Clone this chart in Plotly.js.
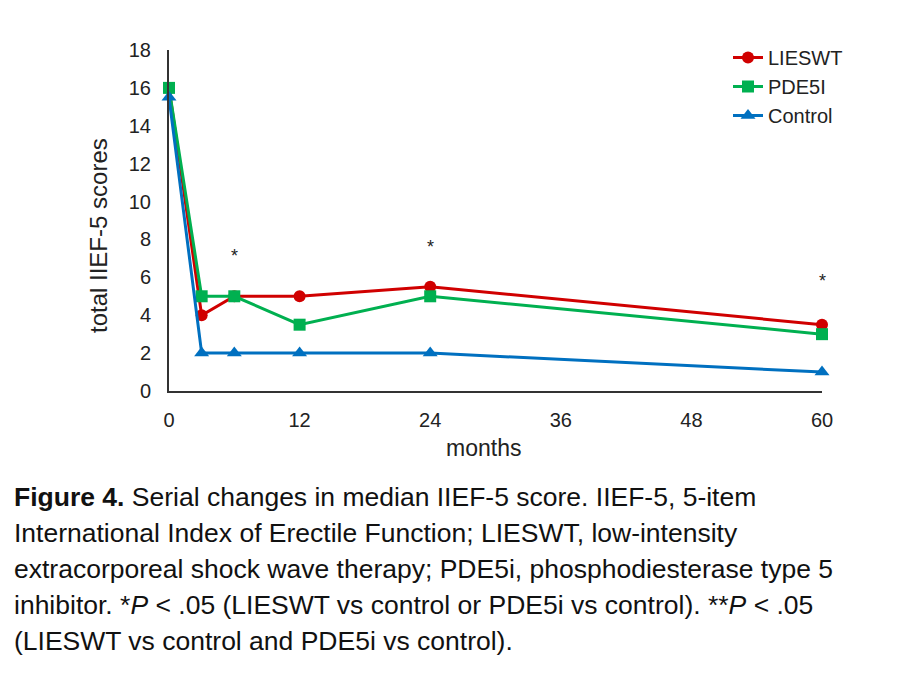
<!DOCTYPE html>
<html><head><meta charset="utf-8">
<script src="https://cdn.plot.ly/plotly-3.0.1.min.js"></script>
<style>body{margin:0;background:#fff}#c{width:907px;height:692px}</style>
</head><body><div id="c"></div>
<script>
const months = [0, 3, 6, 12, 24, 60];
const lieswt = [16, 4, 5, 5, 5.5, 3.5];
const pde5i = [16, 5, 5, 3.5, 5, 3];
const control = [15.5, 2, 2, 2, 2, 1];
const starMonths = [6, 24, 60];
const starY = [7.1, 7.6, 5.8];
const xTicks = [0, 12, 24, 36, 48, 60];
const yTicks = [0, 2, 4, 6, 8, 10, 12, 14, 16, 18];
const xTitle = "months";
const yTitle = "total IIEF-5 scores";
const captionLines = [
  "<b>Figure 4.</b> Serial changes in median IIEF-5 score. IIEF-5, 5-item",
  "International Index of Erectile Function; LIESWT, low-intensity",
  "extracorporeal shock wave therapy; PDE5i, phosphodiesterase type 5",
  "inhibitor. *<i>P</i> &lt; .05 (LIESWT vs control or PDE5i vs control). **<i>P</i> &lt; .05",
  "(LIESWT vs control and PDE5i vs control)."
];

const L = 169, R = 822, T = 50, B = 391;
const pw = R - L, ph = B - T;
const px = v => (v - L) / pw;
const py = v => (B - v) / ph;

const font = "Liberation Sans, Arial, sans-serif";
const txt = '#222';
const mk = (name, y, color, symbol, size) => ({
  x: months, y: y, name: name, type: 'scatter', mode: 'lines+markers',
  line: {color: color, width: 3}, marker: {color: color, symbol: symbol, size: size},
  cliponaxis: false
});
const traces = [
  mk('LIESWT', lieswt, '#d00000', 'circle', 12),
  mk('PDE5I', pde5i, '#00b050', 'square', 12),
  mk('Control', control, '#0070c0', 'triangle-up', 13)
];

const annotations = starMonths.map((m, i) => ({
  x: m, y: starY[i], xref: 'x', yref: 'y', text: '*', showarrow: false,
  font: {family: font, size: 18, color: txt}
}));
annotations.push({
  xref: 'paper', yref: 'paper', x: px(483), y: py(448), xanchor: 'center', yanchor: 'middle',
  showarrow: false, text: xTitle, font: {family: font, size: 23, color: txt}
});
annotations.push({
  xref: 'paper', yref: 'paper', x: px(98), y: py(236), xanchor: 'center', yanchor: 'middle',
  showarrow: false, text: yTitle, textangle: -90, font: {family: font, size: 24, color: txt}
});
captionLines.forEach((t, i) => {
  annotations.push({
    xref: 'paper', yref: 'paper', x: px(12), y: py(497 + i * 36),
    xanchor: 'left', yanchor: 'middle', align: 'left', showarrow: false, text: t,
    font: {family: font, size: 26.5, color: '#111'}
  });
});

const layout = {
  width: 907, height: 692,
  margin: {l: L, r: 907 - R, t: T, b: 692 - B},
  paper_bgcolor: '#fff', plot_bgcolor: '#fff',
  font: {family: font, size: 20, color: txt},
  showlegend: true,
  legend: {x: px(728), y: py(38), xanchor: 'left', yanchor: 'top',
    font: {family: font, size: 20, color: txt}, bgcolor: 'rgba(0,0,0,0)',
    itemwidth: 30, tracegroupgap: 0},
  xaxis: {range: [0, 60], tickvals: xTicks, showgrid: false, zeroline: false,
    showline: true, linecolor: '#333', linewidth: 2, ticks: 'outside', ticklen: 10, tickcolor: 'rgba(0,0,0,0)',
    tickfont: {size: 20, color: txt}},
  yaxis: {range: [0, 18], tickvals: yTicks, showgrid: false, zeroline: false,
    showline: true, linecolor: '#333', linewidth: 2, ticks: 'outside', ticklen: 12, tickcolor: 'rgba(0,0,0,0)',
    tickfont: {size: 20, color: txt}},
  annotations: annotations
};
Plotly.newPlot('c', traces, layout, {displayModeBar: false, staticPlot: true});
</script></body></html>
